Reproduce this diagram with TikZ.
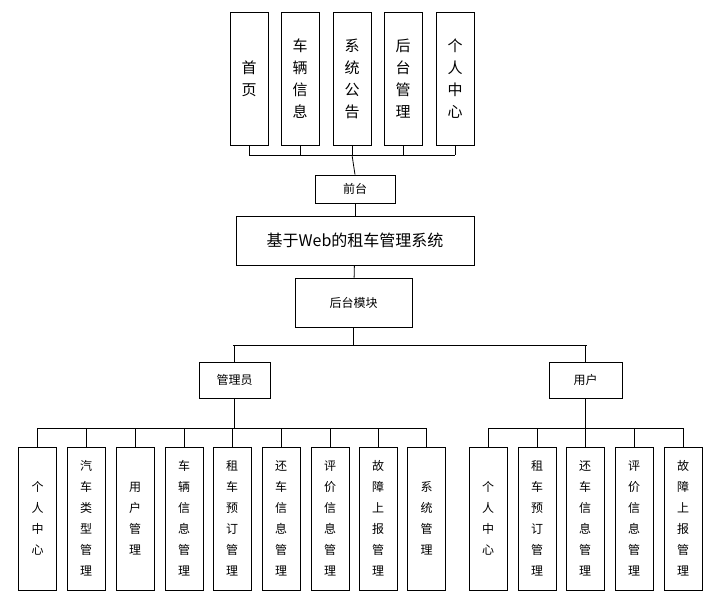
\documentclass[tikz,border=0pt]{standalone}
\usepackage{fontspec}
\setmainfont{Noto Sans CJK SC}
\begin{document}
\begin{tikzpicture}[x=1pt,y=-1pt,
  bx/.style={draw,thick,inner sep=0pt,align=center},
  ln/.style={thick}]
\useasboundingbox (0,0) rectangle (728,607);
% top boxes
\foreach \n/\x/\t in {t1/249/首\\页, t2/300/车\\辆\\信\\息, t3/352/系\\统\\公\\告, t4/403/后\\台\\管\\理, t5/455/个\\人\\中\\心}{
  \node[bx,minimum width=38pt,minimum height=133pt,font=\fontsize{15}{22}\selectfont] (\n) at (\x,78.5) {\t};
  \draw[ln] (\n.south) -- (\x,155);
}
\draw[ln] (249,155) -- (455,155);
\node[bx,minimum width=80pt,minimum height=28pt,font=\fontsize{12}{14}\selectfont] (qt) at (355,189) {前台};
\draw[ln] (352,155) -- (qt.north);
\node[bx,minimum width=238pt,minimum height=49pt,font=\fontsize{16}{18}\selectfont] (sys) at (355,240.5) {基于Web的租车管理系统};
\draw[ln] (qt) -- (sys);
\node[bx,minimum width=117pt,minimum height=49pt,font=\fontsize{12}{14}\selectfont] (ht) at (353.5,302.5) {后台模块};
\draw[ln] (sys) -- (ht);
\coordinate (b1) at (353.5,345);
\draw[ln] (ht.south) -- (b1);
\draw[ln] (233,345) -- (587,345);
\node[bx,minimum width=71pt,minimum height=36pt,font=\fontsize{12}{14}\selectfont] (adm) at (234.5,380) {管理员};
\node[bx,minimum width=73pt,minimum height=36pt,font=\fontsize{12}{14}\selectfont] (usr) at (585.5,380) {用户};
\draw[ln] (adm.north) -- (234.5,345);
\draw[ln] (usr.north) -- (585.5,345);
\draw[ln] (adm.south) -- (234.5,428);
\draw[ln] (usr.south) -- (585.5,428);
\draw[ln] (37.5,428) -- (426.5,428);
\draw[ln] (488,428) -- (683,428);
\foreach \n/\x/\t in {a1/37.5/个\\人\\中\\心, a2/86/汽\\车\\类\\型\\管\\理, a3/135/用\\户\\管\\理, a4/184/车\\辆\\信\\息\\管\\理, a5/232/租\\车\\预\\订\\管\\理, a6/281/还\\车\\信\\息\\管\\理, a7/330/评\\价\\信\\息\\管\\理, a8/378/故\\障\\上\\报\\管\\理, a9/426.5/系\\统\\管\\理,
  u1/488/个\\人\\中\\心, u2/537/租\\车\\预\\订\\管\\理, u3/585/还\\车\\信\\息\\管\\理, u4/634/评\\价\\信\\息\\管\\理, u5/683/故\\障\\上\\报\\管\\理}{
  \node[bx,minimum width=38pt,minimum height=143pt,font=\fontsize{12}{21}\selectfont] (\n) at (\x,518.5) {\t};
  \draw[ln] (\n.north) -- (\x,428);
}
\end{tikzpicture}
\end{document}
